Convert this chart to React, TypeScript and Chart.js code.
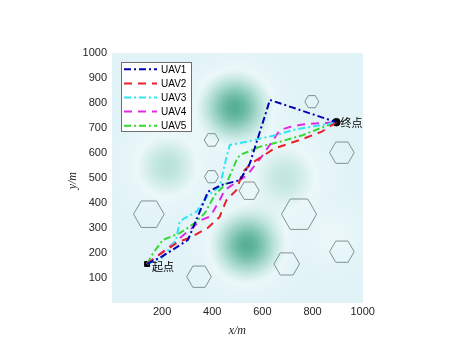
import React, { useEffect, useRef } from 'react';
import { Chart, registerables } from 'chart.js';

Chart.register(...registerables);

// ---- axis ticks ----
const xTickValues = [200, 400, 600, 800, 1000];
const yTickValues = [100, 200, 300, 400, 500, 600, 700, 800, 900, 1000];

// ---- series ----
const seriesLabels = ['UAV1', 'UAV2', 'UAV3', 'UAV4', 'UAV5'];
const seriesColors = ['#0000b4', '#e8202a', '#2ee6ef', '#e02ae0', '#35d835'];

const uav1X = [140, 200, 303, 383, 437, 510, 550, 630, 895];
const uav1Y = [155, 185, 251, 444, 471, 490, 557, 811, 722];

const uav2X = [140, 200, 260, 320, 382, 430, 437, 457, 497, 522, 560, 650, 750, 837, 895];
const uav2Y = [155, 200, 240, 265, 299, 344, 364, 411, 451, 524, 560, 618, 651, 684, 722];

const uav3X = [140, 200, 255, 270, 290, 337, 383, 430, 457, 470, 537, 657, 723, 877, 895];
const uav3Y = [155, 180, 250, 324, 338, 364, 430, 464, 584, 631, 644, 671, 691, 718, 722];

const uav4X = [140, 230, 310, 357, 390, 403, 430, 450, 470, 530, 550, 597, 643, 670, 710, 760, 830, 895];
const uav4Y = [155, 225, 291, 331, 344, 364, 411, 451, 464, 504, 524, 584, 651, 691, 703, 713, 718, 722];

const uav5X = [140, 163, 203, 270, 330, 370, 410, 457, 497, 510, 543, 590, 670, 763, 863, 895];
const uav5Y = [155, 197, 251, 278, 318, 358, 431, 478, 571, 591, 604, 624, 644, 671, 711, 722];

const startPoint = { x: 140, y: 155 };
const endPoint = { x: 895, y: 722 };
const startLabel = '起点';
const endLabel = '终点';

// ---- hexagonal obstacles (centre, circumradius in metres) ----
const obstacleX = [797, 397, 397, 547, 147, 746, 917, 917, 697, 347];
const obstacleY = [804, 651, 504, 448, 354, 354, 600, 204, 155, 104];
const obstacleR = [28, 29, 28, 40, 61, 70, 49, 49, 51, 49];

// ---- threat field peaks ----
const peakX = [490, 540, 220, 690, 880];
const peakY = [780, 230, 545, 500, 260];
const peakAmp = [0.95, 0.95, 0.4, 0.35, 0.15];
const peakSigma = [80, 80, 85, 90, 70];

const xTitle = 'x/m';
const yTitle = 'y/m';

const dashes: number[][] = [[7, 3, 2, 3], [8, 6], [7, 3, 2, 3], [8, 6], [7, 3, 2, 3]];
const seriesX = [uav1X, uav2X, uav3X, uav4X, uav5X];
const seriesY = [uav1Y, uav2Y, uav3Y, uav4Y, uav5Y];

const cmapStops: [number, number[]][] = [
  [0, [226, 243, 247]],
  [0.14, [236, 248, 250]],
  [0.4, [185, 226, 218]],
  [1, [78, 172, 142]],
];

function cmap(v: number): number[] {
  if (v <= 0) return cmapStops[0][1];
  for (let i = 1; i < cmapStops.length; i++) {
    const [t1, c1] = cmapStops[i];
    const [t0, c0] = cmapStops[i - 1];
    if (v <= t1) {
      const f = (v - t0) / (t1 - t0);
      return [0, 1, 2].map((k) => c0[k] + (c1[k] - c0[k]) * f);
    }
  }
  return cmapStops[cmapStops.length - 1][1];
}

const backgroundPlugin = {
  id: 'fieldAndObstacles',
  beforeDatasetsDraw(chart: any) {
    const { ctx, chartArea, scales } = chart;
    const xs = scales.x;
    const ys = scales.y;
    const w = Math.round(chartArea.right - chartArea.left);
    const h = Math.round(chartArea.bottom - chartArea.top);
    const off = document.createElement('canvas');
    off.width = w;
    off.height = h;
    const octx = off.getContext('2d')!;
    const img = octx.createImageData(w, h);
    for (let j = 0; j < h; j++) {
      const yv = ys.getValueForPixel(chartArea.top + j + 0.5);
      for (let i = 0; i < w; i++) {
        const xv = xs.getValueForPixel(chartArea.left + i + 0.5);
        let v = 0;
        for (let p = 0; p < peakX.length; p++) {
          const dx = xv - peakX[p];
          const dy = yv - peakY[p];
          v += peakAmp[p] * Math.exp(-(dx * dx + dy * dy) / (2 * peakSigma[p] * peakSigma[p]));
        }
        const c = cmap(Math.min(1, v));
        const idx = (j * w + i) * 4;
        img.data[idx] = c[0];
        img.data[idx + 1] = c[1];
        img.data[idx + 2] = c[2];
        img.data[idx + 3] = 255;
      }
    }
    octx.putImageData(img, 0, 0);
    ctx.save();
    ctx.drawImage(off, chartArea.left, chartArea.top, chartArea.right - chartArea.left, chartArea.bottom - chartArea.top);
    // hexagons
    ctx.strokeStyle = '#7e948f';
    ctx.lineWidth = 1;
    for (let k = 0; k < obstacleX.length; k++) {
      const cx = xs.getPixelForValue(obstacleX[k]);
      const cy = ys.getPixelForValue(obstacleY[k]);
      const r = xs.getPixelForValue(obstacleX[k] + obstacleR[k]) - cx;
      ctx.beginPath();
      for (let a = 0; a < 6; a++) {
        const ang = (Math.PI / 3) * a;
        const px = cx + r * Math.cos(ang);
        const py = cy + r * Math.sin(ang);
        if (a === 0) ctx.moveTo(px, py);
        else ctx.lineTo(px, py);
      }
      ctx.closePath();
      ctx.stroke();
    }
    ctx.restore();
  },
  afterDatasetsDraw(chart: any) {
    const { ctx, chartArea, scales } = chart;
    const xs = scales.x;
    const ys = scales.y;
    ctx.save();
    // point labels
    ctx.fillStyle = '#000';
    ctx.font = '11px "Noto Sans CJK SC"';
    ctx.textBaseline = 'middle';
    ctx.textAlign = 'left';
    ctx.fillText(startLabel, xs.getPixelForValue(startPoint.x) + 5, ys.getPixelForValue(startPoint.y) + 3);
    ctx.fillText(endLabel, xs.getPixelForValue(endPoint.x) + 4, ys.getPixelForValue(endPoint.y) + 1);

    // legend
    const lx = chartArea.left + 9;
    const ly = chartArea.top + 9.3;
    const lw = 71;
    const lh = 70;
    ctx.fillStyle = '#ffffff';
    ctx.fillRect(lx, ly, lw, lh);
    ctx.strokeStyle = '#6e6e6e';
    ctx.lineWidth = 1;
    ctx.strokeRect(lx + 0.5, ly + 0.5, lw - 1, lh - 1);
    ctx.font = '10px "Liberation Sans"';
    ctx.textBaseline = 'middle';
    for (let i = 0; i < seriesLabels.length; i++) {
      const y = ly + 7.3 + i * 14.1;
      ctx.strokeStyle = seriesColors[i];
      ctx.lineWidth = 2;
      ctx.setLineDash(dashes[i]);
      ctx.beginPath();
      ctx.moveTo(lx + 3, y);
      ctx.lineTo(lx + 36, y);
      ctx.stroke();
      ctx.setLineDash([]);
      ctx.fillStyle = '#000';
      ctx.fillText(seriesLabels[i], lx + 40, y + 0.5);
    }

    // axis titles
    ctx.fillStyle = '#262626';
    ctx.font = 'italic 12px "Liberation Serif"';
    ctx.textAlign = 'center';
    ctx.textBaseline = 'middle';
    ctx.fillText(xTitle, (chartArea.left + chartArea.right) / 2, 331);
    ctx.translate(73, (chartArea.top + chartArea.bottom) / 2 + 3);
    ctx.rotate(-Math.PI / 2);
    ctx.fillText(yTitle, 0, 0);
    ctx.restore();
  },
};

export default function App() {
  const ref = useRef<HTMLCanvasElement | null>(null);
  useEffect(() => {
    if (!ref.current) return;
    const datasets: any[] = seriesLabels.map((label, i) => ({
      type: 'line',
      label,
      data: seriesX[i].map((x, k) => ({ x, y: seriesY[i][k] })),
      borderColor: seriesColors[i],
      backgroundColor: seriesColors[i],
      borderWidth: 2,
      borderDash: dashes[i],
      pointRadius: 0,
      fill: false,
      tension: 0,
    }));
    datasets.push({
      type: 'scatter',
      label: startLabel,
      data: [startPoint],
      pointStyle: 'rect',
      pointRadius: 3.5,
      backgroundColor: '#000',
      borderColor: '#000',
      showLine: false,
    });
    datasets.push({
      type: 'scatter',
      label: endLabel,
      data: [endPoint],
      pointStyle: 'circle',
      pointRadius: 3.8,
      backgroundColor: '#000',
      borderColor: '#000',
      showLine: false,
    });
    const tickFmt = (v: any) => String(v);
    const chart = new Chart(ref.current, {
      type: 'line',
      data: { datasets },
      options: {
        animation: false,
        responsive: false,
        maintainAspectRatio: false,
        layout: { padding: { top: 52.7, right: 111.3, left: 0, bottom: 0 } },
        plugins: { legend: { display: false }, tooltip: { enabled: false } },
        scales: {
          x: {
            type: 'linear',
            min: 0,
            max: 1000,
            grid: { display: false, drawTicks: false },
            border: { display: false },
            afterBuildTicks: (s: any) => {
              s.ticks = xTickValues.map((v) => ({ value: v }));
            },
            afterFit: (s: any) => {
              s.height = 52.3;
            },
            ticks: {
              color: '#262626',
              font: { family: '"Liberation Sans"', size: 11 },
              padding: 3,
              maxRotation: 0,
              autoSkip: false,
              callback: tickFmt,
            },
          },
          y: {
            type: 'linear',
            min: 0,
            max: 1000,
            grid: { display: false, drawTicks: false },
            border: { display: false },
            afterBuildTicks: (s: any) => {
              s.ticks = yTickValues.map((v) => ({ value: v }));
            },
            afterFit: (s: any) => {
              s.width = 112;
            },
            ticks: {
              color: '#262626',
              font: { family: '"Liberation Sans"', size: 11 },
              padding: 5,
              autoSkip: false,
              callback: tickFmt,
            },
          },
        },
      },
      plugins: [backgroundPlugin],
    } as any);
    return () => chart.destroy();
  }, []);
  return (
    <div style={{ position: 'absolute', left: 0, top: 0, width: 474, height: 355, background: '#fff' }}>
      <canvas ref={ref} width={474} height={355} style={{ display: 'block' }} />
    </div>
  );
}
